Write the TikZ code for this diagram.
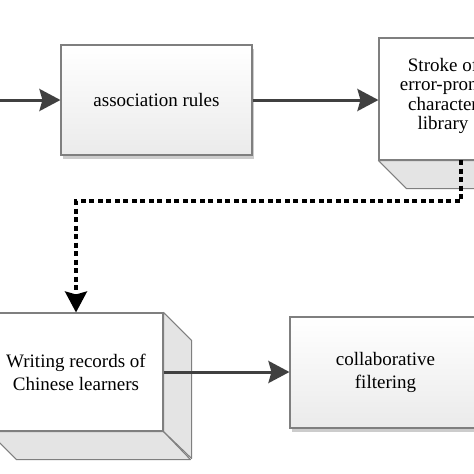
\documentclass[tikz,border=0pt]{standalone}
\usepackage{fontspec}
\setmainfont{Liberation Serif}
\usetikzlibrary{arrows.meta,shadows}
\definecolor{edgegray}{HTML}{7F7F7F}
\definecolor{facegray}{HTML}{E4E4E4}
\definecolor{arrowgray}{HTML}{404040}
\definecolor{shadowgray}{HTML}{CCCCCC}
\tikzset{
  flatbox/.style={draw=edgegray, line width=1.1pt, top color=white, bottom color=black!8,
    drop shadow={shadow xshift=2pt, shadow yshift=-4pt, fill=shadowgray, opacity=1},
    align=center, inner sep=0pt, font=\fontsize{19}{23}\selectfont},
  frontbox/.style={draw=edgegray, line width=1.1pt, fill=white,
    align=center, inner sep=0pt, font=\fontsize{19}{23}\selectfont},
  depthface/.style={draw=edgegray, line width=1.1pt, fill=facegray, line join=round},
  flowarrow/.style={draw=arrowgray, line width=3pt,
    -{Stealth[length=21pt,width=22pt,inset=3pt,fill=arrowgray]}},
  dotarrow/.style={draw=black, line width=3.2pt, dash pattern=on 5pt off 3.5pt,
    -{Stealth[length=21pt,width=22pt,inset=3pt,fill=black]}}
}
\begin{document}
\begin{tikzpicture}[x=1pt,y=-1pt]
\useasboundingbox (0,0) rectangle (474,474);
\fill[white] (0,0) rectangle (474,474);
\clip (0,0) rectangle (474,474);

% 3D box: Stroke library
\node[frontbox, minimum width=128pt, minimum height=122pt] (stroke) at (443,99) {};
\draw[depthface] (stroke.south west) -- ++(28,28) -- ++(128,0) -- (stroke.south east) -- cycle;
\draw[depthface] (stroke.north east) -- ++(28,28) -- ++(0,122) -- (stroke.south east) -- cycle;
\node[align=center, inner sep=0pt, font=\fontsize{19}{19.5}\selectfont] (stroketext) at (443,96)
  {Stroke of\\error-prone\\character\\library};

% 3D box: Writing records
\node[frontbox, minimum width=174pt, minimum height=118pt] (writing) at (76,372)
  {Writing records of\\Chinese learners};
\draw[depthface] (writing.south west) -- ++(28,28) -- ++(174,0) -- (writing.south east) -- cycle;
\draw[depthface] (writing.north east) -- ++(28,28) -- ++(0,118) -- (writing.south east) -- cycle;

% flat boxes
\node[flatbox, minimum width=191pt, minimum height=110pt] (assoc) at (156.5,100) {association rules};
\node[flatbox, minimum width=191pt, minimum height=111pt] (collab) at (385.5,372.5) {collaborative\\filtering};

% connectors
\coordinate (in) at (0,100);
\draw[flowarrow] (in) -- (assoc.west);
\draw[flowarrow] (assoc.east) -- (assoc.east -| stroke.west);
\draw[flowarrow] (writing.east) -- (writing.east -| collab.west);
\coordinate (s1) at (461,160);
\draw[dotarrow] (s1) -- ++(0,41) -| (writing.north);
\end{tikzpicture}
\end{document}
